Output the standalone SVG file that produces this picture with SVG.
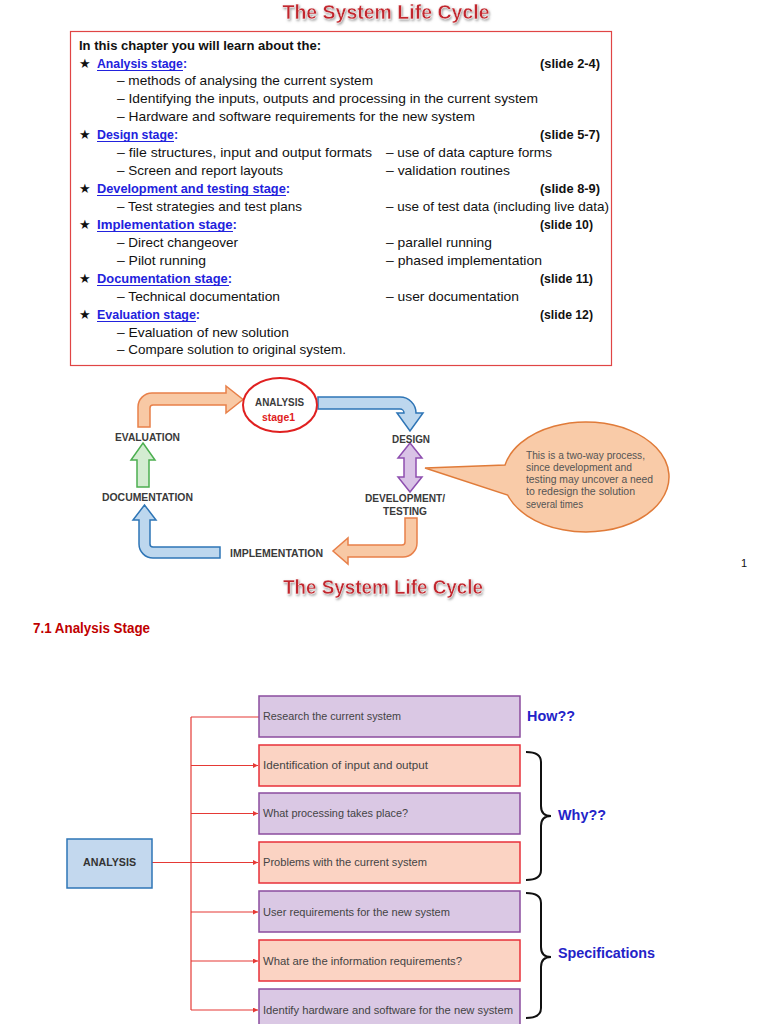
<svg xmlns="http://www.w3.org/2000/svg" width="768" height="1024" viewBox="0 0 768 1024">
<defs>
<filter id="shadow" x="-10%" y="-30%" width="120%" height="160%">
<feDropShadow dx="1" dy="1.5" stdDeviation="1" flood-color="#777" flood-opacity="0.7"/>
</filter>
<marker id="arr" viewBox="0 0 10 10" refX="10" refY="5" markerWidth="8" markerHeight="5" markerUnits="userSpaceOnUse" orient="auto">
<path d="M0,0 L10,5 L0,10 Z" fill="#e53935"/>
</marker>
</defs>
<style>
text{font-family:"Liberation Sans",Arial,sans-serif}
.title{font-size:20px;font-weight:bold;fill:#c1272d;stroke:#fff;stroke-width:0.4;text-anchor:middle}
.b{font-size:13.5px;fill:#111}
.bb{font-size:13.5px;fill:#111;font-weight:bold}
.star{font-family:"DejaVu Sans",sans-serif;font-size:13px;fill:#111}
.link{font-size:13.5px;fill:#2222dd;font-weight:bold}
.ul{stroke:#2222dd;stroke-width:1;fill:none}
.sl{font-size:13.5px;font-weight:bold;fill:#111}
.cl{font-size:10px;font-weight:bold;fill:#3a3a3a;text-anchor:middle}
.co{font-size:10px;fill:#555}
.bx{font-size:11px;fill:#444}
.blue{font-size:14px;font-weight:bold;fill:#2323c8}
.pur{fill:#dac8e4;stroke:#8b4c9e;stroke-width:1.5}
.pea{fill:#fbd3c3;stroke:#e8303a;stroke-width:1.5}
.conn{stroke:#e53935;stroke-width:1.2;fill:none}
.brace{stroke:#111;stroke-width:2;fill:none}
</style>

<rect width="768" height="1024" fill="#fff"/>

<text class="title" x="386" y="19" textLength="207" lengthAdjust="spacingAndGlyphs" filter="url(#shadow)">The System Life Cycle</text>

<g id="intro-box">
<rect x="70.5" y="31.5" width="541" height="334" fill="#fff" stroke="#e04545" stroke-width="1.2"/>
<text class="bb" x="79" y="50" textLength="242" lengthAdjust="spacingAndGlyphs">In this chapter you will learn about the:</text>

<text class="star" x="79" y="68">★</text>
<text class="link" x="97" y="68" textLength="90" lengthAdjust="spacingAndGlyphs">Analysis stage:</text>
<path class="ul" d="M97,70.5 H183"/>
<text class="sl" x="540" y="68" textLength="60" lengthAdjust="spacingAndGlyphs">(slide 2-4)</text>
<text class="b" x="117" y="85" textLength="256" lengthAdjust="spacingAndGlyphs">– methods of analysing the current system</text>
<text class="b" x="117" y="103" textLength="421" lengthAdjust="spacingAndGlyphs">– Identifying the inputs, outputs and processing in the current system</text>
<text class="b" x="117" y="121" textLength="358" lengthAdjust="spacingAndGlyphs">– Hardware and software requirements for the new system</text>

<text class="star" x="79" y="139">★</text>
<text class="link" x="97" y="139" textLength="81" lengthAdjust="spacingAndGlyphs">Design stage:</text>
<path class="ul" d="M97,141.5 H174"/>
<text class="sl" x="540" y="139" textLength="60" lengthAdjust="spacingAndGlyphs">(slide 5-7)</text>
<text class="b" x="117" y="157" textLength="255" lengthAdjust="spacingAndGlyphs">– file structures, input and output formats</text>
<text class="b" x="386" y="157" textLength="166" lengthAdjust="spacingAndGlyphs">– use of data capture forms</text>
<text class="b" x="117" y="175" textLength="166" lengthAdjust="spacingAndGlyphs">– Screen and report layouts</text>
<text class="b" x="386" y="175" textLength="124" lengthAdjust="spacingAndGlyphs">– validation routines</text>

<text class="star" x="79" y="193">★</text>
<text class="link" x="97" y="193" textLength="193" lengthAdjust="spacingAndGlyphs">Development and testing stage:</text>
<path class="ul" d="M97,195.5 H286"/>
<text class="sl" x="540" y="193" textLength="60" lengthAdjust="spacingAndGlyphs">(slide 8-9)</text>
<text class="b" x="117" y="211" textLength="185" lengthAdjust="spacingAndGlyphs">– Test strategies and test plans</text>
<text class="b" x="386" y="211" textLength="223" lengthAdjust="spacingAndGlyphs">– use of test data (including live data)</text>

<text class="star" x="79" y="229">★</text>
<text class="link" x="97" y="229" textLength="140" lengthAdjust="spacingAndGlyphs">Implementation stage:</text>
<path class="ul" d="M97,231.5 H233"/>
<text class="sl" x="540" y="229" textLength="53" lengthAdjust="spacingAndGlyphs">(slide 10)</text>
<text class="b" x="117" y="247" textLength="121" lengthAdjust="spacingAndGlyphs">– Direct changeover</text>
<text class="b" x="386" y="247" textLength="106" lengthAdjust="spacingAndGlyphs">– parallel running</text>
<text class="b" x="117" y="265" textLength="89" lengthAdjust="spacingAndGlyphs">– Pilot running</text>
<text class="b" x="386" y="265" textLength="156" lengthAdjust="spacingAndGlyphs">– phased implementation</text>

<text class="star" x="79" y="283">★</text>
<text class="link" x="97" y="283" textLength="135" lengthAdjust="spacingAndGlyphs">Documentation stage:</text>
<path class="ul" d="M97,285.5 H229"/>
<text class="sl" x="540" y="283" textLength="53" lengthAdjust="spacingAndGlyphs">(slide 11)</text>
<text class="b" x="117" y="301" textLength="163" lengthAdjust="spacingAndGlyphs">– Technical documentation</text>
<text class="b" x="386" y="301" textLength="133" lengthAdjust="spacingAndGlyphs">– user documentation</text>

<text class="star" x="79" y="319">★</text>
<text class="link" x="97" y="319" textLength="103" lengthAdjust="spacingAndGlyphs">Evaluation stage:</text>
<path class="ul" d="M97,321.5 H196"/>
<text class="sl" x="540" y="319" textLength="53" lengthAdjust="spacingAndGlyphs">(slide 12)</text>
<text class="b" x="117" y="337" textLength="172" lengthAdjust="spacingAndGlyphs">– Evaluation of new solution</text>
<text class="b" x="117" y="354" textLength="229" lengthAdjust="spacingAndGlyphs">– Compare solution to original system.</text>
</g>

<!-- life cycle diagram -->
<g id="cycle-connectors">
<path d="M138,427 V407 A14,14 0 0 1 152,393 H226 V386 L243,399.5 L226,413 V405 H153 A3,3 0 0 0 150,408 V427 Z" fill="#f8c9a5" stroke="#e8804a" stroke-width="1.5"/>
<path d="M318,397 H400 A16,16 0 0 1 416,413 H423 L410,431 L397,413 H404 A4,4 0 0 0 400,409 H318 Z" fill="#bdd7ee" stroke="#2e75b6" stroke-width="1.5"/>
<path d="M410,443 L422,458 H416 V477 H422 L410,492 L398,477 H404 V458 H398 Z" fill="#d9c3e6" stroke="#8e4fb0" stroke-width="1.5"/>
<path d="M405,518 H417 V543 A14,14 0 0 1 403,557 H348 V564 L333,551 L348,538 V545 H402 A3,3 0 0 0 405,542 Z" fill="#f8c9a5" stroke="#e8804a" stroke-width="1.5"/>
<path d="M220,547 V558 H153 A14,14 0 0 1 139,544 V520 H133 L144.5,505 L156,520 H150 V544 A3,3 0 0 0 153,547 Z" fill="#bdd7ee" stroke="#2e75b6" stroke-width="1.5"/>
<path d="M143,443 L155,460 H149 V487 H137 V460 H131 Z" fill="#d3ecd1" stroke="#4caf50" stroke-width="1.5"/>
</g>

<g id="node-analysis">
<ellipse cx="280" cy="405" rx="37" ry="27" fill="#fff" stroke="#e02020" stroke-width="2"/>
<text class="cl" x="279.5" y="406" textLength="49" lengthAdjust="spacingAndGlyphs">ANALYSIS</text>
<text x="278.5" y="421" font-size="11" font-weight="bold" fill="#e02020" text-anchor="middle" textLength="33" lengthAdjust="spacingAndGlyphs">stage1</text>
</g>
<g id="node-design"><text class="cl" x="411" y="443" textLength="38" lengthAdjust="spacingAndGlyphs">DESIGN</text></g>
<g id="node-devtest">
<text class="cl" x="405" y="502" textLength="80" lengthAdjust="spacingAndGlyphs">DEVELOPMENT/</text>
<text class="cl" x="405" y="515" textLength="44" lengthAdjust="spacingAndGlyphs">TESTING</text>
</g>
<g id="node-implementation"><text class="cl" x="276.5" y="557" textLength="93" lengthAdjust="spacingAndGlyphs">IMPLEMENTATION</text></g>
<g id="node-documentation"><text class="cl" x="147.5" y="501" textLength="91" lengthAdjust="spacingAndGlyphs">DOCUMENTATION</text></g>
<g id="node-evaluation"><text class="cl" x="147.5" y="441" textLength="65" lengthAdjust="spacingAndGlyphs">EVALUATION</text></g>

<g id="callout">
<path d="M425,468 L505,465 A83,55 0 1 1 507.6,495 Z" fill="#f9cba8" stroke="#e07b39" stroke-width="1.5"/>
<text class="co" x="526" y="459" textLength="119" lengthAdjust="spacingAndGlyphs">This is a two-way process,</text>
<text class="co" x="526" y="471" textLength="106" lengthAdjust="spacingAndGlyphs">since development and</text>
<text class="co" x="526" y="483" textLength="127" lengthAdjust="spacingAndGlyphs">testing may uncover a need</text>
<text class="co" x="526" y="495" textLength="109" lengthAdjust="spacingAndGlyphs">to redesign the solution</text>
<text class="co" x="526" y="508" textLength="57" lengthAdjust="spacingAndGlyphs">several times</text>
</g>

<text x="741" y="567" font-size="11" fill="#111">1</text>

<text class="title" x="383" y="594" textLength="200" lengthAdjust="spacingAndGlyphs" filter="url(#shadow)">The System Life Cycle</text>
<text x="33" y="633" font-size="14" font-weight="bold" fill="#c00000" textLength="117" lengthAdjust="spacingAndGlyphs">7.1 Analysis Stage</text>

<!-- analysis tree -->
<g id="tree-connectors">
<path class="conn" d="M191,717 V1010"/>
<path class="conn" d="M191,717 H259" stroke="#f08080"/>
<path class="conn" d="M191,765.5 H258" marker-end="url(#arr)"/>
<path class="conn" d="M191,813.5 H258" marker-end="url(#arr)"/>
<path class="conn" d="M152,862.5 H258" marker-end="url(#arr)"/>
<path class="conn" d="M191,912 H258" marker-end="url(#arr)"/>
<path class="conn" d="M191,961 H258" marker-end="url(#arr)"/>
<path class="conn" d="M191,1010 H258" marker-end="url(#arr)"/>
</g>

<g id="node-analysis-root">
<rect x="67" y="839" width="85" height="49" fill="#c3d8ee" stroke="#2e75b6" stroke-width="1.5"/>
<text x="109.5" y="866" font-size="11" font-weight="bold" fill="#333" text-anchor="middle" textLength="53" lengthAdjust="spacingAndGlyphs">ANALYSIS</text>
</g>

<g id="node-research"><rect class="pur" x="259" y="696" width="261" height="41"/><text class="bx" x="263" y="720" textLength="138" lengthAdjust="spacingAndGlyphs">Research the current system</text></g>
<g id="node-io"><rect class="pea" x="259" y="745" width="261" height="41"/><text class="bx" x="263" y="769" textLength="165" lengthAdjust="spacingAndGlyphs">Identification of input and output</text></g>
<g id="node-processing"><rect class="pur" x="259" y="793" width="261" height="41"/><text class="bx" x="263" y="817" textLength="145" lengthAdjust="spacingAndGlyphs">What processing takes place?</text></g>
<g id="node-problems"><rect class="pea" x="259" y="842" width="261" height="41"/><text class="bx" x="263" y="866" textLength="164" lengthAdjust="spacingAndGlyphs">Problems with the current system</text></g>
<g id="node-user"><rect class="pur" x="259" y="891" width="261" height="41"/><text class="bx" x="263" y="916" textLength="187" lengthAdjust="spacingAndGlyphs">User requirements for the new system</text></g>
<g id="node-info"><rect class="pea" x="259" y="940" width="261" height="41"/><text class="bx" x="263" y="965" textLength="199" lengthAdjust="spacingAndGlyphs">What are the information requirements?</text></g>
<g id="node-hw"><rect class="pur" x="259" y="989" width="261" height="41"/><text class="bx" x="263" y="1014" textLength="250" lengthAdjust="spacingAndGlyphs">Identify hardware and software for the new system</text></g>

<g id="labels">
<text class="blue" x="527" y="721" textLength="48" lengthAdjust="spacingAndGlyphs">How??</text>
<path class="brace" d="M526,752 Q541,752 541,762 V806 Q541,816 551,816 Q541,816 541,826 V870 Q541,880 526,880"/>
<text class="blue" x="558" y="820" textLength="48" lengthAdjust="spacingAndGlyphs">Why??</text>
<path class="brace" d="M526,893 Q541,893 541,903 V947 Q541,957 551,957 Q541,957 541,967 V1008 Q541,1018 526,1018"/>
<text class="blue" x="558" y="958" textLength="97" lengthAdjust="spacingAndGlyphs">Specifications</text>
</g>
</svg>
